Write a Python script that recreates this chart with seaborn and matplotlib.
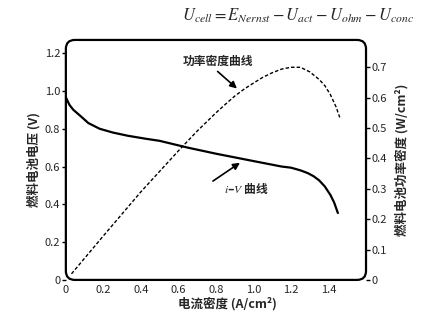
import numpy as np
import pandas as pd
import matplotlib
matplotlib.use('Agg')
import matplotlib.pyplot as plt
from matplotlib.patches import FancyBboxPatch
import seaborn as sns

sns.set_style('white')
plt.rcParams['font.family'] = ['Noto Sans CJK SC', 'DejaVu Sans']
plt.rcParams['mathtext.fontset'] = 'stix'

# i-V 曲线 (电流密度 A/cm2 -> 电压 V)
iv_current = [0, 0.01, 0.02, 0.04, 0.075, 0.12, 0.18, 0.25, 0.33, 0.42, 0.5, 0.65, 0.8, 1.0,
              1.15, 1.2, 1.25, 1.29, 1.32, 1.35, 1.38, 1.41, 1.43, 1.45]
iv_voltage = [0.967, 0.945, 0.925, 0.90, 0.87, 0.83, 0.80, 0.78, 0.763, 0.748, 0.736, 0.70, 0.668, 0.629,
              0.60, 0.594, 0.58, 0.565, 0.549, 0.527, 0.495, 0.45, 0.41, 0.354]

# 功率密度曲线 (电流密度 A/cm2 -> W/cm2)
pw_current = [0.03, 0.2, 0.4, 0.6, 0.7, 0.8, 0.85, 0.9, 0.95, 1.0, 1.05, 1.1, 1.15, 1.2, 1.25,
              1.3, 1.35, 1.38, 1.41, 1.44, 1.46]
pw_power = [0.02, 0.145, 0.29, 0.425, 0.49, 0.55, 0.578, 0.605, 0.628, 0.648, 0.667, 0.682, 0.694, 0.70, 0.70,
            0.685, 0.66, 0.64, 0.61, 0.57, 0.535]

x_ticks = [0, 0.2, 0.4, 0.6, 0.8, 1.0, 1.2, 1.4]
x_labels = ['0', '0.2', '0.4', '0.6', '0.8', '1.0', '1.2', '1.4']
v_ticks = [0, 0.2, 0.4, 0.6, 0.8, 1.0, 1.2]
v_labels = ['0', '0.2', '0.4', '0.6', '0.8', '1.0', '1.2']
p_ticks = [0, 0.1, 0.2, 0.3, 0.4, 0.5, 0.6, 0.7]
p_labels = ['0', '0.1', '0.2', '0.3', '0.4', '0.5', '0.6', '0.7']

iv_df = pd.DataFrame({'i': iv_current, 'v': iv_voltage})
pw_df = pd.DataFrame({'i': pw_current, 'p': pw_power})

fig = plt.figure(figsize=(4.48, 3.17), dpi=100)
ax = fig.add_axes([0.147, 0.117, 0.670, 0.757])
ax2 = ax.twinx()

sns.lineplot(data=iv_df, x='i', y='v', ax=ax, color='black', lw=1.6, sort=False)
sns.lineplot(data=pw_df, x='i', y='p', ax=ax2, color='black', lw=1.0, sort=False,
             linestyle=(0, (2.5, 1.5)))

ax.set_xlim(0, 1.6)
ax.set_ylim(0, 1.27)
ax2.set_ylim(0, 0.79)

ax.set_xticks(x_ticks, x_labels)
ax.set_yticks(v_ticks, v_labels)
ax2.set_yticks(p_ticks, p_labels)

for a in (ax, ax2):
    for s in a.spines.values():
        s.set_visible(False)
    a.tick_params(direction='out', length=3, width=1, color='black', labelsize=8, pad=1)

# 圆角边框
box = FancyBboxPatch((0, 0), 1, 1, boxstyle='round,pad=0,rounding_size=0.03',
                     mutation_aspect=1.25, transform=ax.transAxes,
                     fill=False, ec='black', lw=1.6, clip_on=False)
ax.add_patch(box)

ax.set_xlabel('电流密度 (A/cm²)', fontsize=9, fontweight='bold', labelpad=1)
ax.xaxis.set_label_coords(0.537, -0.07)
ax.set_ylabel('燃料电池电压 (V)', fontsize=9, fontweight='bold', labelpad=3)
ax2.set_ylabel('燃料电池功率密度 (W/cm²)', fontsize=9, fontweight='bold', labelpad=6)

ax.annotate('功率密度曲线', xy=(0.912, 1.013), xytext=(0.62, 1.155),
            fontsize=8.5, fontweight='bold', ha='left', va='center',
            arrowprops=dict(arrowstyle='-|>', color='black', lw=1.2, mutation_scale=10,
                            shrinkA=0, shrinkB=0, relpos=(0.45, 0)))
ax.annotate('', xy=(0.928, 0.62), xytext=(0.784, 0.523),
            arrowprops=dict(arrowstyle='-|>', color='black', lw=1.2, mutation_scale=10,
                            shrinkA=0, shrinkB=0))
ax.text(0.96, 0.485, '$i$–$V$ 曲线', fontsize=8.5, fontweight='bold', ha='center', va='center')

fig.text(0.665, 0.95, r'$U_{cell}=E_{Nernst}-U_{act}-U_{ohm}-U_{conc}$',
         fontsize=12, ha='center', va='center')

fig.savefig('out.png', dpi=100, facecolor='white')
